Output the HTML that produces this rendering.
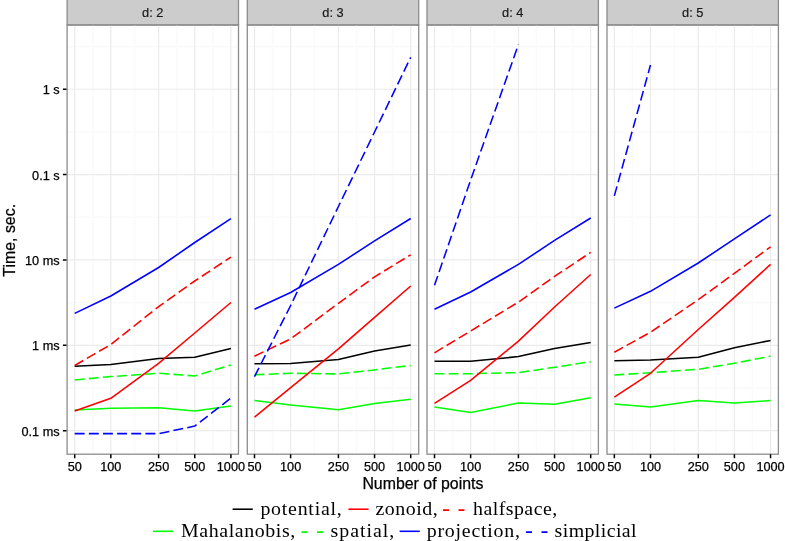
<!DOCTYPE html><html><head><meta charset="utf-8"><title>Time vs number of points</title><style>
html,body{margin:0;padding:0;background:#fff;width:785px;height:541px;overflow:hidden}
svg{display:block}
.ax{font-family:"Liberation Sans",Arial,sans-serif;font-size:12.7px;fill:#000;stroke:#000;stroke-width:0.25px}
.st{font-family:"Liberation Sans",Arial,sans-serif;font-size:12.8px;fill:#1a1a1a;stroke:#1a1a1a;stroke-width:0.2px}
.ti{font-family:"Liberation Sans",Arial,sans-serif;font-size:15.9px;fill:#000;stroke:#000;stroke-width:0.25px}
.lg{font-family:"Liberation Serif","Times New Roman",serif;font-size:18.6px;fill:#000}
</style></head><body>
<svg width="785" height="541" viewBox="0 0 785 541">
<rect width="785" height="541" fill="#fff"/>
<rect x="67.10" y="-10" width="171.40" height="35.00" fill="#CCCCCC" stroke="#8C8C8C" stroke-width="1.3"/>
<text class="st" x="152.80" y="17.0" text-anchor="middle">d: 2</text>
<path d="M67.10 46.58H238.50M67.10 131.93H238.50M67.10 217.28H238.50M67.10 302.62H238.50M67.10 387.98H238.50M92.77 25.00V454.20M134.73 25.00V454.20M176.69 25.00V454.20M212.83 25.00V454.20" stroke="#FAFAFA" stroke-width="1.6" fill="none"/>
<path d="M67.10 89.25H238.50M67.10 174.60H238.50M67.10 259.95H238.50M67.10 345.30H238.50M67.10 430.65H238.50M74.70 25.00V454.20M110.84 25.00V454.20M158.62 25.00V454.20M194.76 25.00V454.20M230.90 25.00V454.20" stroke="#EBEBEB" stroke-width="1.2" fill="none"/>
<polyline points="74.70,409.90 110.84,408.30 158.62,407.70 194.76,411.00 230.90,406.10" fill="none" stroke="#00FF00" stroke-width="1.55" stroke-linejoin="round"/>
<polyline points="74.70,379.90 110.84,376.60 158.62,373.30 194.76,375.90 230.90,365.00" fill="none" stroke="#00FF00" stroke-width="1.55" stroke-linejoin="round" stroke-dasharray="9.9 4.25"/>
<polyline points="74.70,366.20 110.84,364.40 158.62,358.40 194.76,357.30 230.90,348.40" fill="none" stroke="#000000" stroke-width="1.55" stroke-linejoin="round"/>
<polyline points="74.70,411.00 110.84,398.30 158.62,363.30 194.76,333.00 230.90,302.50" fill="none" stroke="#FF0000" stroke-width="1.55" stroke-linejoin="round"/>
<polyline points="74.70,365.50 110.84,344.50 158.62,306.60 194.76,281.00 230.90,257.10" fill="none" stroke="#FF0000" stroke-width="1.55" stroke-linejoin="round" stroke-dasharray="9.9 4.25"/>
<polyline points="74.70,313.40 110.84,296.00 158.62,267.50 194.76,242.50 230.90,218.70" fill="none" stroke="#0000FF" stroke-width="1.55" stroke-linejoin="round"/>
<polyline points="74.70,433.60 110.84,433.60 158.62,433.60 194.76,426.10 230.90,398.10" fill="none" stroke="#0000FF" stroke-width="1.55" stroke-linejoin="round" stroke-dasharray="9.9 4.25"/>
<rect x="67.10" y="25.00" width="171.40" height="429.20" fill="none" stroke="#8C8C8C" stroke-width="1.3"/>
<path d="M74.70 454.20V458.20M110.84 454.20V458.20M158.62 454.20V458.20M194.76 454.20V458.20M230.90 454.20V458.20" stroke="#000" stroke-width="1.5"/>
<text class="ax" x="74.70" y="471.2" text-anchor="middle">50</text>
<text class="ax" x="110.84" y="471.2" text-anchor="middle">100</text>
<text class="ax" x="158.62" y="471.2" text-anchor="middle">250</text>
<text class="ax" x="194.76" y="471.2" text-anchor="middle">500</text>
<text class="ax" x="230.90" y="471.2" text-anchor="middle">1000</text>
<rect x="247.30" y="-10" width="171.40" height="35.00" fill="#CCCCCC" stroke="#8C8C8C" stroke-width="1.3"/>
<text class="st" x="333.00" y="17.0" text-anchor="middle">d: 3</text>
<path d="M247.30 46.58H418.70M247.30 131.93H418.70M247.30 217.28H418.70M247.30 302.62H418.70M247.30 387.98H418.70M272.57 25.00V454.20M314.53 25.00V454.20M356.49 25.00V454.20M392.63 25.00V454.20" stroke="#FAFAFA" stroke-width="1.6" fill="none"/>
<path d="M247.30 89.25H418.70M247.30 174.60H418.70M247.30 259.95H418.70M247.30 345.30H418.70M247.30 430.65H418.70M254.50 25.00V454.20M290.64 25.00V454.20M338.42 25.00V454.20M374.56 25.00V454.20M410.70 25.00V454.20" stroke="#EBEBEB" stroke-width="1.2" fill="none"/>
<polyline points="254.50,400.60 290.64,405.00 338.42,409.70 374.56,403.40 410.70,399.20" fill="none" stroke="#00FF00" stroke-width="1.55" stroke-linejoin="round"/>
<polyline points="254.50,374.80 290.64,373.30 338.42,373.90 374.56,369.90 410.70,365.50" fill="none" stroke="#00FF00" stroke-width="1.55" stroke-linejoin="round" stroke-dasharray="9.9 4.25"/>
<polyline points="254.50,363.70 290.64,363.50 338.42,359.50 374.56,351.10 410.70,345.10" fill="none" stroke="#000000" stroke-width="1.55" stroke-linejoin="round"/>
<polyline points="254.50,417.20 290.64,387.70 338.42,348.90 374.56,317.30 410.70,286.00" fill="none" stroke="#FF0000" stroke-width="1.55" stroke-linejoin="round"/>
<polyline points="254.50,356.20 290.64,338.90 338.42,303.30 374.56,276.90 410.70,254.80" fill="none" stroke="#FF0000" stroke-width="1.55" stroke-linejoin="round" stroke-dasharray="9.9 4.25"/>
<polyline points="254.50,309.30 290.64,292.50 338.42,264.40 374.56,240.90 410.70,218.50" fill="none" stroke="#0000FF" stroke-width="1.55" stroke-linejoin="round"/>
<polyline points="254.50,376.60 290.64,305.50 338.42,206.50 374.56,132.00 410.70,57.30" fill="none" stroke="#0000FF" stroke-width="1.55" stroke-linejoin="round" stroke-dasharray="9.9 4.25"/>
<rect x="247.30" y="25.00" width="171.40" height="429.20" fill="none" stroke="#8C8C8C" stroke-width="1.3"/>
<path d="M254.50 454.20V458.20M290.64 454.20V458.20M338.42 454.20V458.20M374.56 454.20V458.20M410.70 454.20V458.20" stroke="#000" stroke-width="1.5"/>
<text class="ax" x="254.50" y="471.2" text-anchor="middle">50</text>
<text class="ax" x="290.64" y="471.2" text-anchor="middle">100</text>
<text class="ax" x="338.42" y="471.2" text-anchor="middle">250</text>
<text class="ax" x="374.56" y="471.2" text-anchor="middle">500</text>
<text class="ax" x="410.70" y="471.2" text-anchor="middle">1000</text>
<rect x="427.00" y="-10" width="171.40" height="35.00" fill="#CCCCCC" stroke="#8C8C8C" stroke-width="1.3"/>
<text class="st" x="512.70" y="17.0" text-anchor="middle">d: 4</text>
<path d="M427.00 46.58H598.40M427.00 131.93H598.40M427.00 217.28H598.40M427.00 302.62H598.40M427.00 387.98H598.40M452.57 25.00V454.20M494.53 25.00V454.20M536.49 25.00V454.20M572.63 25.00V454.20" stroke="#FAFAFA" stroke-width="1.6" fill="none"/>
<path d="M427.00 89.25H598.40M427.00 174.60H598.40M427.00 259.95H598.40M427.00 345.30H598.40M427.00 430.65H598.40M434.50 25.00V454.20M470.64 25.00V454.20M518.42 25.00V454.20M554.56 25.00V454.20M590.70 25.00V454.20" stroke="#EBEBEB" stroke-width="1.2" fill="none"/>
<polyline points="434.50,407.00 470.64,412.50 518.42,403.00 554.56,404.30 590.70,397.70" fill="none" stroke="#00FF00" stroke-width="1.55" stroke-linejoin="round"/>
<polyline points="434.50,373.70 470.64,373.70 518.42,372.60 554.56,367.30 590.70,361.70" fill="none" stroke="#00FF00" stroke-width="1.55" stroke-linejoin="round" stroke-dasharray="9.9 4.25"/>
<polyline points="434.50,361.30 470.64,361.30 518.42,356.60 554.56,348.40 590.70,342.40" fill="none" stroke="#000000" stroke-width="1.55" stroke-linejoin="round"/>
<polyline points="434.50,403.40 470.64,380.40 518.42,341.10 554.56,307.00 590.70,274.50" fill="none" stroke="#FF0000" stroke-width="1.55" stroke-linejoin="round"/>
<polyline points="434.50,352.80 470.64,331.00 518.42,302.10 554.56,276.40 590.70,252.40" fill="none" stroke="#FF0000" stroke-width="1.55" stroke-linejoin="round" stroke-dasharray="9.9 4.25"/>
<polyline points="434.50,309.30 470.64,292.00 518.42,264.40 554.56,240.40 590.70,218.00" fill="none" stroke="#0000FF" stroke-width="1.55" stroke-linejoin="round"/>
<polyline points="434.50,285.30 470.64,180.00 518.42,44.50" fill="none" stroke="#0000FF" stroke-width="1.55" stroke-linejoin="round" stroke-dasharray="9.9 4.25"/>
<rect x="427.00" y="25.00" width="171.40" height="429.20" fill="none" stroke="#8C8C8C" stroke-width="1.3"/>
<path d="M434.50 454.20V458.20M470.64 454.20V458.20M518.42 454.20V458.20M554.56 454.20V458.20M590.70 454.20V458.20" stroke="#000" stroke-width="1.5"/>
<text class="ax" x="434.50" y="471.2" text-anchor="middle">50</text>
<text class="ax" x="470.64" y="471.2" text-anchor="middle">100</text>
<text class="ax" x="518.42" y="471.2" text-anchor="middle">250</text>
<text class="ax" x="554.56" y="471.2" text-anchor="middle">500</text>
<text class="ax" x="590.70" y="471.2" text-anchor="middle">1000</text>
<rect x="607.00" y="-10" width="171.40" height="35.00" fill="#CCCCCC" stroke="#8C8C8C" stroke-width="1.3"/>
<text class="st" x="692.70" y="17.0" text-anchor="middle">d: 5</text>
<path d="M607.00 46.58H778.40M607.00 131.93H778.40M607.00 217.28H778.40M607.00 302.62H778.40M607.00 387.98H778.40M632.42 25.00V454.20M674.38 25.00V454.20M716.34 25.00V454.20M752.48 25.00V454.20" stroke="#FAFAFA" stroke-width="1.6" fill="none"/>
<path d="M607.00 89.25H778.40M607.00 174.60H778.40M607.00 259.95H778.40M607.00 345.30H778.40M607.00 430.65H778.40M614.35 25.00V454.20M650.49 25.00V454.20M698.27 25.00V454.20M734.41 25.00V454.20M770.55 25.00V454.20" stroke="#EBEBEB" stroke-width="1.2" fill="none"/>
<polyline points="614.35,403.90 650.49,407.00 698.27,400.60 734.41,403.00 770.55,400.60" fill="none" stroke="#00FF00" stroke-width="1.55" stroke-linejoin="round"/>
<polyline points="614.35,375.00 650.49,372.80 698.27,369.30 734.41,363.30 770.55,356.20" fill="none" stroke="#00FF00" stroke-width="1.55" stroke-linejoin="round" stroke-dasharray="9.9 4.25"/>
<polyline points="614.35,360.80 650.49,360.00 698.27,357.30 734.41,347.70 770.55,340.40" fill="none" stroke="#000000" stroke-width="1.55" stroke-linejoin="round"/>
<polyline points="614.35,397.20 650.49,373.30 698.27,329.50 734.41,297.30 770.55,264.40" fill="none" stroke="#FF0000" stroke-width="1.55" stroke-linejoin="round"/>
<polyline points="614.35,352.20 650.49,332.20 698.27,299.70 734.41,273.30 770.55,246.90" fill="none" stroke="#FF0000" stroke-width="1.55" stroke-linejoin="round" stroke-dasharray="9.9 4.25"/>
<polyline points="614.35,308.10 650.49,291.30 698.27,263.00 734.41,238.90 770.55,214.90" fill="none" stroke="#0000FF" stroke-width="1.55" stroke-linejoin="round"/>
<polyline points="614.35,195.90 650.49,65.00" fill="none" stroke="#0000FF" stroke-width="1.55" stroke-linejoin="round" stroke-dasharray="9.9 4.25"/>
<rect x="607.00" y="25.00" width="171.40" height="429.20" fill="none" stroke="#8C8C8C" stroke-width="1.3"/>
<path d="M614.35 454.20V458.20M650.49 454.20V458.20M698.27 454.20V458.20M734.41 454.20V458.20M770.55 454.20V458.20" stroke="#000" stroke-width="1.5"/>
<text class="ax" x="614.35" y="471.2" text-anchor="middle">50</text>
<text class="ax" x="650.49" y="471.2" text-anchor="middle">100</text>
<text class="ax" x="698.27" y="471.2" text-anchor="middle">250</text>
<text class="ax" x="734.41" y="471.2" text-anchor="middle">500</text>
<text class="ax" x="770.55" y="471.2" text-anchor="middle">1000</text>
<path d="M62.90 89.25H66.50M62.90 174.60H66.50M62.90 259.95H66.50M62.90 345.30H66.50M62.90 430.65H66.50" stroke="#000" stroke-width="1.5"/>
<text class="ax" x="59.6" y="94.35" text-anchor="end">1 s</text>
<text class="ax" x="59.6" y="179.70" text-anchor="end">0.1 s</text>
<text class="ax" x="59.6" y="265.05" text-anchor="end">10 ms</text>
<text class="ax" x="59.6" y="350.40" text-anchor="end">1 ms</text>
<text class="ax" x="59.6" y="435.75" text-anchor="end">0.1 ms</text>
<text class="ti" x="422.9" y="488.7" text-anchor="middle">Number of points</text>
<text class="ti" transform="translate(14.5 240.3) rotate(-90)" text-anchor="middle">Time, sec.</text>
<path d="M232.60 509.20h20.2" stroke="#000" stroke-width="1.55"/>
<text class="lg" transform="translate(260.40 514.60) scale(1.07 1)" textLength="76.07" lengthAdjust="spacing">potential,</text>
<path d="M348.40 509.20h20.2" stroke="#FF0000" stroke-width="1.55"/>
<text class="lg" transform="translate(375.50 514.60) scale(1.07 1)" textLength="58.22" lengthAdjust="spacing">zonoid,</text>
<path d="M443.00 510.10h6M458.50 510.10h6" stroke="#FF0000" stroke-width="1.75"/>
<text class="lg" transform="translate(473.00 514.60) scale(1.07 1)" textLength="78.69" lengthAdjust="spacing">halfspace,</text>
<path d="M153.00 531.30h20.2" stroke="#00FF00" stroke-width="1.55"/>
<text class="lg" transform="translate(181.00 536.80) scale(1.07 1)" textLength="106.82" lengthAdjust="spacing">Mahalanobis,</text>
<path d="M301.50 532.20h6M317.00 532.20h6" stroke="#00FF00" stroke-width="1.75"/>
<text class="lg" transform="translate(330.60 536.80) scale(1.07 1)" textLength="59.53" lengthAdjust="spacing">spatial,</text>
<path d="M399.60 531.30h20.2" stroke="#0000FF" stroke-width="1.55"/>
<text class="lg" transform="translate(426.70 536.80) scale(1.07 1)" textLength="87.20" lengthAdjust="spacing">projection,</text>
<path d="M526.00 532.20h6M541.50 532.20h6" stroke="#0000FF" stroke-width="1.75"/>
<text class="lg" transform="translate(554.60 536.80) scale(1.07 1)" textLength="76.64" lengthAdjust="spacing">simplicial</text>
</svg></body></html>
